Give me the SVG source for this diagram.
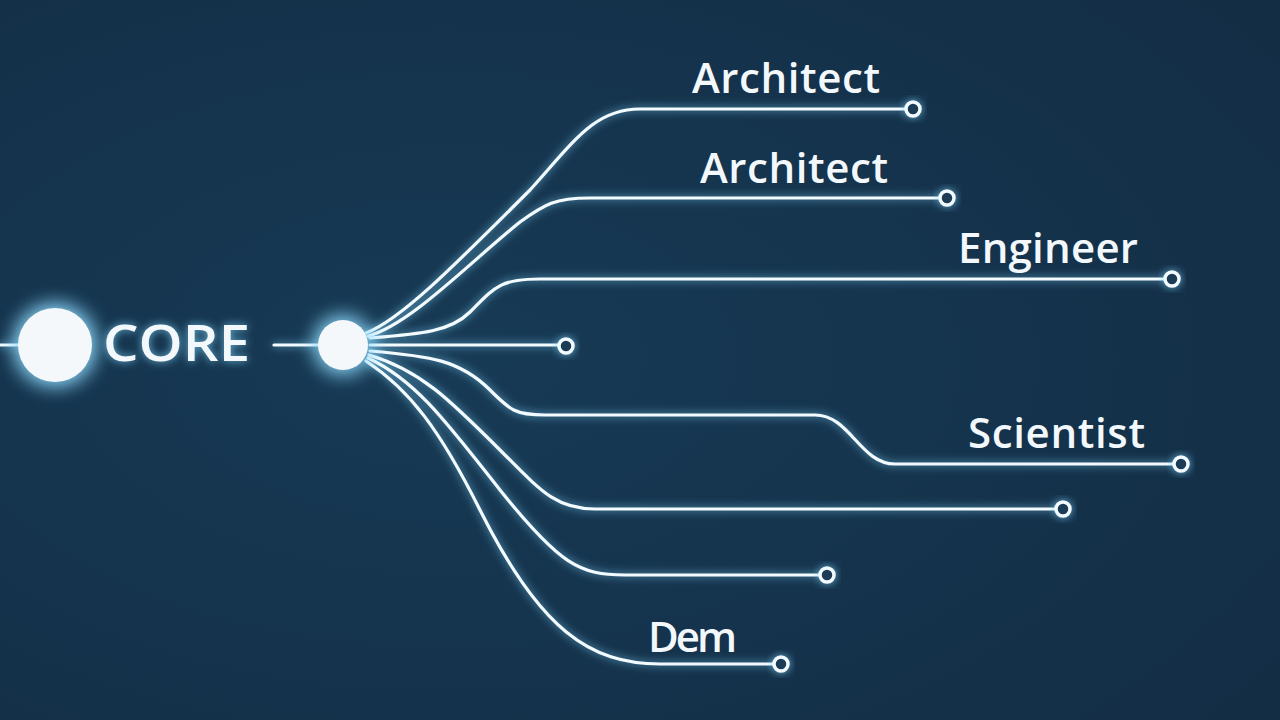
<svg xmlns="http://www.w3.org/2000/svg" width="1280" height="720" viewBox="0 0 1280 720">
<defs>
<radialGradient id="bg" cx="0.35" cy="0.5" r="0.8">
<stop offset="0" stop-color="#173a55"/>
<stop offset="1" stop-color="#132d45"/>
</radialGradient>
<filter id="glow" x="-50%" y="-50%" width="200%" height="200%">
<feGaussianBlur in="SourceAlpha" stdDeviation="4" result="b"/>
<feFlood flood-color="#7fd8ff" flood-opacity="0.8"/>
<feComposite operator="in" in2="b" result="c"/>
<feMerge><feMergeNode in="c"/><feMergeNode in="SourceGraphic"/></feMerge>
</filter>
<filter id="bigglow" x="-100%" y="-100%" width="300%" height="300%">
<feGaussianBlur in="SourceAlpha" stdDeviation="11" result="b"/>
<feFlood flood-color="#8fdcff" flood-opacity="0.9"/>
<feComposite operator="in" in2="b" result="c"/>
<feMerge><feMergeNode in="c"/><feMergeNode in="c"/><feMergeNode in="SourceGraphic"/></feMerge>
</filter>
<style>
.wire{fill:none;stroke:#f2fbff;stroke-width:3.2;stroke-linecap:round;stroke-linejoin:round}
.end{fill:#1a3a55;stroke:#f2fbff;stroke-width:3.5}
.lbl{font-family:"Open Sans","Liberation Sans",sans-serif;font-weight:600;fill:#f2f8fc;font-size:42px}
</style>
</defs>
<rect width="1280" height="720" fill="url(#bg)"/>
<g id="connectors" filter="url(#glow)">
<path class="wire" d="M0,345 H20"/>
<path class="wire" d="M274,345 H320"/>
<path class="wire" d="M366,333 C400,320 450,270 530,190 C575,140 595,109 640,109 H906"/>
<path class="wire" d="M368,336 C410,325 470,262 520,222 C545,204 555,198 590,198 H940"/>
<path class="wire" d="M370,338 C420,334 450,332 470,312 C495,287 500,279 540,279 H1165"/>
<path class="wire" d="M370,345 H559"/>
<path class="wire" d="M370,351 C430,356 460,360 490,390 C510,410 515,415 545,415 H815 C850,415 860,464 895,464 H1174"/>
<path class="wire" d="M369,355 C420,370 450,400 500,450 C540,490 555,509 595,509 H1056"/>
<path class="wire" d="M368,358 C415,380 445,420 500,490 C560,565 580,575 625,575 H820"/>
<path class="wire" d="M366,361 C410,390 440,430 480,510 C540,630 590,664 660,664 H774"/>
</g>
<g id="node-core" filter="url(#bigglow)">
<circle cx="55" cy="345" r="37" fill="#f4f8fa"/>
</g>
<g id="label-core"><text x="103" y="361" font-family="'Open Sans','Liberation Sans',Arial,sans-serif" font-size="50" font-weight="600" fill="#f2f8fc" textLength="147" lengthAdjust="spacingAndGlyphs" filter="url(#glow)">CORE</text></g>
<g id="node-hub" filter="url(#bigglow)">
<circle cx="343" cy="345" r="25" fill="#f4f8fa"/>
</g>
<g id="node-architect1"><circle class="end" cx="913" cy="109" r="7" filter="url(#glow)"/><text class="lbl" x="692" y="93" textLength="188">Architect</text></g>
<g id="node-architect2"><circle class="end" cx="947" cy="198" r="7" filter="url(#glow)"/><text class="lbl" x="700" y="183" textLength="188">Architect</text></g>
<g id="node-engineer"><circle class="end" cx="1172" cy="279" r="7" filter="url(#glow)"/><text class="lbl" x="958" y="263" textLength="180">Engineer</text></g>
<g id="node-mid"><circle class="end" cx="566" cy="346" r="7" filter="url(#glow)"/></g>
<g id="node-scientist"><circle class="end" cx="1181" cy="464" r="7" filter="url(#glow)"/><text class="lbl" x="968" y="448" textLength="177">Scientist</text></g>
<g id="node-6"><circle class="end" cx="1063" cy="509" r="7" filter="url(#glow)"/></g>
<g id="node-7"><circle class="end" cx="827" cy="575" r="7" filter="url(#glow)"/></g>
<g id="node-dem"><circle class="end" cx="781" cy="664" r="7" filter="url(#glow)"/><text class="lbl" x="648" y="652" textLength="89">Dem</text></g>
</svg>
